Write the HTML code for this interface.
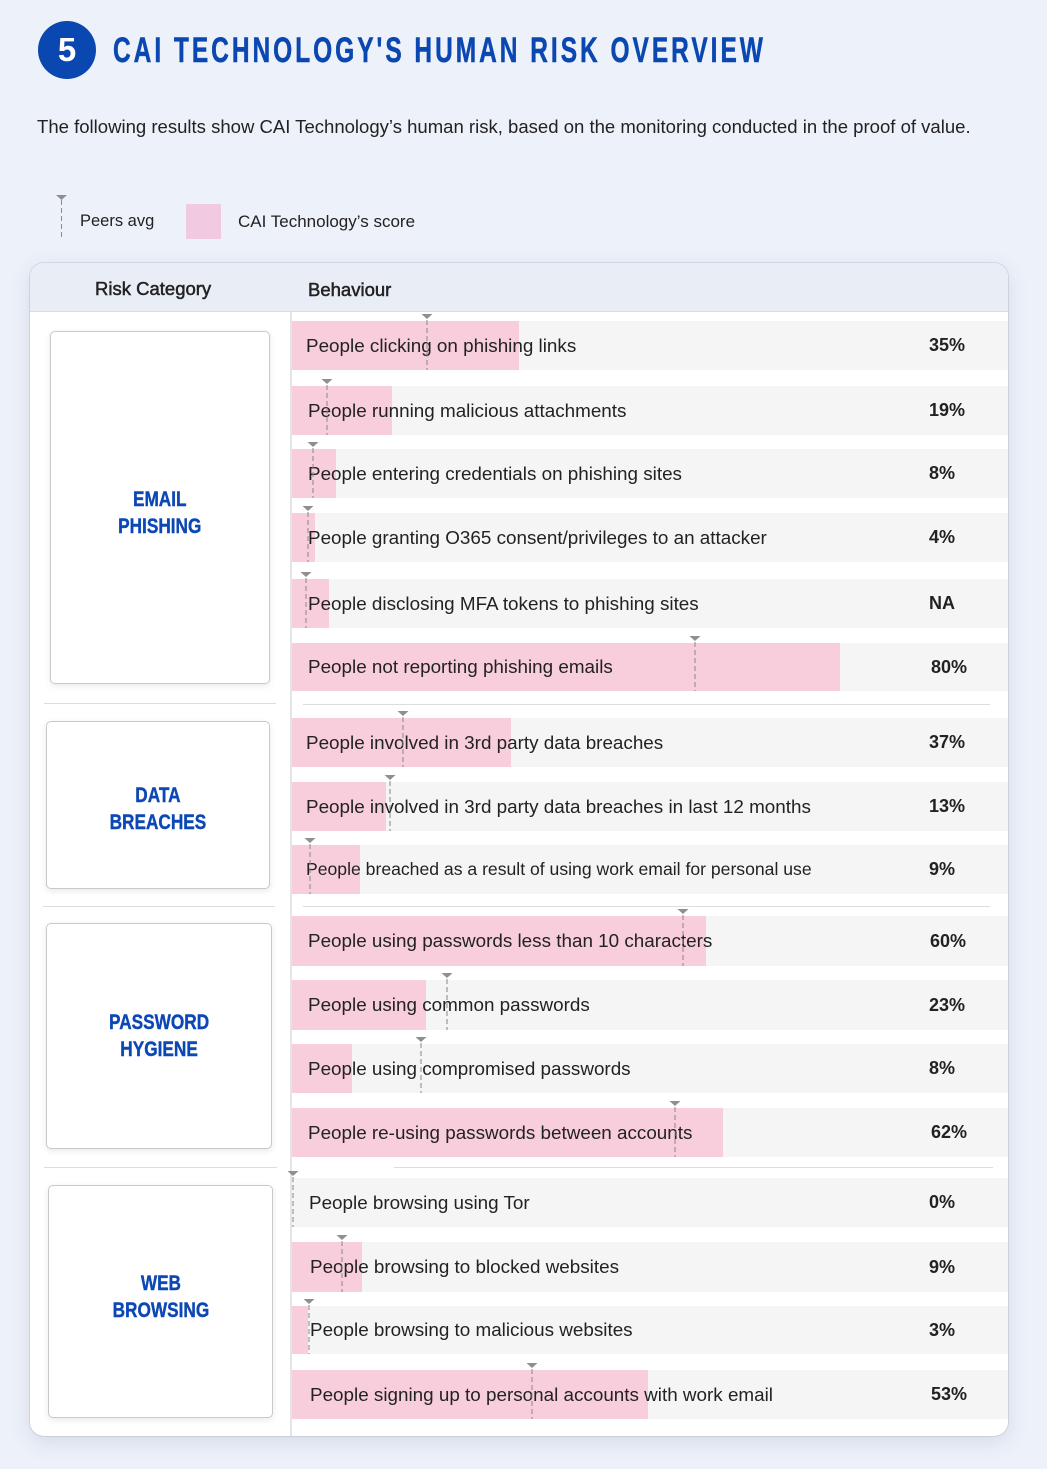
<!DOCTYPE html>
<html><head><meta charset="utf-8">
<style>
*{margin:0;padding:0;box-sizing:border-box}
body{width:1047px;height:1469px;background:#edf1f9;font-family:"Liberation Sans",sans-serif;color:#222;position:relative;overflow:hidden}
.abs{position:absolute}
.circle{left:38px;top:21px;width:58px;height:58px;border-radius:50%;background:#0a47b1;color:#fff;font-weight:bold;font-size:33px;line-height:58px;text-align:center}
.title{left:113px;top:33px;line-height:35px;font-size:35px;font-weight:bold;color:#0a47b1;letter-spacing:4.25px;white-space:nowrap;transform:scaleX(0.7);transform-origin:left center;-webkit-text-stroke:0.5px #0a47b1}
.sub{left:37px;top:117px;font-size:18.55px;line-height:20px;white-space:nowrap;color:#222}
.leg{font-size:17px;line-height:20px;white-space:nowrap}
.card{left:30px;top:263px;width:978px;height:1173px;background:#fff;border-radius:14px;box-shadow:0 6px 22px rgba(60,70,110,0.13),0 0 0 1px rgba(200,205,215,0.6);overflow:hidden}
.hdr{left:0;top:0;width:978px;height:49px;background:#e9edf6;border-bottom:1px solid #d8dce5}
.hl{font-size:18.5px;line-height:20px;top:16px;-webkit-text-stroke:0.5px #222;white-space:nowrap}
.colline{left:260px;top:49px;width:2px;height:1130px;background:#e3e5ea}
.box{background:#fff;border:1px solid #c9c9c9;border-radius:5px;box-shadow:0 2px 7px rgba(0,0,0,0.09);display:flex;align-items:center;justify-content:center;text-align:center}
.cat{display:inline-block;font-weight:bold;font-size:21px;line-height:27px;color:#0b47b5;transform:scaleX(0.82);-webkit-text-stroke:0.4px #0b47b5}
.sep{height:1px;background:#dcdde2}
.row{left:262px;width:716px;height:49px;background:#f5f5f5}
.bar{position:absolute;left:0;top:0;height:100%;background:#f8cedc}
.lbl{position:absolute;top:0;line-height:49px;font-size:18.85px;white-space:nowrap;color:#222}
.pct{position:absolute;left:637px;top:0;line-height:49px;font-size:18px;font-weight:bold;color:#222}
</style></head><body>
<div class="abs circle">5</div>
<div class="abs title">CAI TECHNOLOGY'S HUMAN RISK OVERVIEW</div>
<div class="abs sub">The following results show CAI Technology’s human risk, based on the monitoring conducted in the proof of value.</div>

<svg class="abs" style="left:50px;top:190px" width="24" height="52">
<polygon points="6,5 17,5 11.5,10" fill="#8f8f8f"/>
<line x1="11.5" y1="10" x2="11.5" y2="48" stroke="#888" stroke-width="1" stroke-dasharray="5,3"/>
</svg>
<div class="abs leg" style="left:80px;top:211px;font-size:16.5px">Peers avg</div>
<div class="abs" style="left:186px;top:204px;width:35px;height:35px;background:#f1c9e0"></div>
<div class="abs leg" style="left:238px;top:212px">CAI Technology’s score</div>

<div class="abs card">
  <div class="abs hdr"></div>
  <div class="abs hl" style="left:65px">Risk Category</div>
  <div class="abs hl" style="left:278px;top:17px">Behaviour</div>
  <div class="abs colline"></div>

  <div class="abs box" style="left:20px;top:68px;width:220px;height:353px"><span class="cat" style="position:relative;top:5px">EMAIL<br>PHISHING</span></div>
  <div class="abs sep" style="left:14px;top:440px;width:232px"></div>
  <div class="abs box" style="left:16px;top:458px;width:224px;height:168px"><span class="cat" style="position:relative;top:4px">DATA<br>BREACHES</span></div>
  <div class="abs sep" style="left:13px;top:643px;width:232px"></div>
  <div class="abs box" style="left:16px;top:660px;width:226px;height:226px"><span class="cat">PASSWORD<br>HYGIENE</span></div>
  <div class="abs sep" style="left:14px;top:904px;width:233px"></div>
  <div class="abs box" style="left:18px;top:922px;width:225px;height:233px"><span class="cat" style="position:relative;top:-5px">WEB<br>BROWSING</span></div>

  <div class="abs sep" style="left:273px;top:441px;width:687px"></div>
  <div class="abs sep" style="left:273px;top:643px;width:687px"></div>
  <div class="abs sep" style="left:364px;top:904px;width:599px"></div>

  <div class="abs row" style="top:58px"><div class="bar" style="width:227px"></div><div class="lbl" style="left:14px">People clicking on phishing links</div><div class="pct">35%</div></div>
  <div class="abs row" style="top:123px"><div class="bar" style="width:100px"></div><div class="lbl" style="left:16px">People running malicious attachments</div><div class="pct">19%</div></div>
  <div class="abs row" style="top:186px"><div class="bar" style="width:44px"></div><div class="lbl" style="left:16px">People entering credentials on phishing sites</div><div class="pct">8%</div></div>
  <div class="abs row" style="top:250px"><div class="bar" style="width:23px"></div><div class="lbl" style="left:16px">People granting O365 consent/privileges to an attacker</div><div class="pct">4%</div></div>
  <div class="abs row" style="top:316px"><div class="bar" style="width:37px"></div><div class="lbl" style="left:16px">People disclosing MFA tokens to phishing sites</div><div class="pct">NA</div></div>
  <div class="abs row" style="top:380px;height:48px"><div class="bar" style="width:548px"></div><div class="lbl" style="left:16px;line-height:48px">People not reporting phishing emails</div><div class="pct" style="left:639px;line-height:48px">80%</div></div>

  <div class="abs row" style="top:455px"><div class="bar" style="width:219px"></div><div class="lbl" style="left:14px">People involved in 3rd party data breaches</div><div class="pct">37%</div></div>
  <div class="abs row" style="top:519px"><div class="bar" style="width:94px"></div><div class="lbl" style="left:14px">People involved in 3rd party data breaches in last 12 months</div><div class="pct">13%</div></div>
  <div class="abs row" style="top:582px"><div class="bar" style="width:68px"></div><div class="lbl" style="left:14px;font-size:17.6px">People breached as a result of using work email for personal use</div><div class="pct">9%</div></div>

  <div class="abs row" style="top:653px;height:50px"><div class="bar" style="width:414px"></div><div class="lbl" style="left:16px;line-height:50px">People using passwords less than 10 characters</div><div class="pct" style="left:638px;line-height:50px">60%</div></div>
  <div class="abs row" style="top:717px;height:50px"><div class="bar" style="width:134px"></div><div class="lbl" style="left:16px;line-height:50px">People using common passwords</div><div class="pct" style="line-height:50px">23%</div></div>
  <div class="abs row" style="top:781px"><div class="bar" style="width:60px"></div><div class="lbl" style="left:16px">People using compromised passwords</div><div class="pct">8%</div></div>
  <div class="abs row" style="top:845px"><div class="bar" style="width:431px"></div><div class="lbl" style="left:16px">People re-using passwords between accounts</div><div class="pct" style="left:639px">62%</div></div>

  <div class="abs row" style="top:915px"><div class="lbl" style="left:17px">People browsing using Tor</div><div class="pct">0%</div></div>
  <div class="abs row" style="top:979px;height:50px"><div class="bar" style="width:70px"></div><div class="lbl" style="left:18px;line-height:50px">People browsing to blocked websites</div><div class="pct" style="line-height:50px">9%</div></div>
  <div class="abs row" style="top:1043px;height:48px"><div class="bar" style="width:16px"></div><div class="lbl" style="left:18px;line-height:48px">People browsing to malicious websites</div><div class="pct" style="line-height:48px">3%</div></div>
  <div class="abs row" style="top:1107px"><div class="bar" style="width:356px"></div><div class="lbl" style="left:18px">People signing up to personal accounts with work email</div><div class="pct" style="left:639px">53%</div></div>
</div>

<svg class="abs" style="left:0;top:0" width="1047" height="1469">
<defs>
<g id="m"><polygon points="-5.5,-6 5.5,-6 0,-1" fill="#8f8f8f"/></g>
</defs>
<g stroke="#888" stroke-width="1" stroke-dasharray="5,3" fill="none">
<line x1="427" y1="320" x2="427" y2="370"/>
<line x1="327" y1="385" x2="327" y2="435"/>
<line x1="313" y1="448" x2="313" y2="498"/>
<line x1="308" y1="512" x2="308" y2="562"/>
<line x1="306" y1="578" x2="306" y2="628"/>
<line x1="695" y1="642" x2="695" y2="691"/>
<line x1="403" y1="717" x2="403" y2="767"/>
<line x1="390" y1="781" x2="390" y2="831"/>
<line x1="310" y1="844" x2="310" y2="894"/>
<line x1="683" y1="915" x2="683" y2="966"/>
<line x1="447" y1="979" x2="447" y2="1030"/>
<line x1="421" y1="1043" x2="421" y2="1093"/>
<line x1="675" y1="1107" x2="675" y2="1157"/>
<line x1="293" y1="1177" x2="293" y2="1227"/>
<line x1="342" y1="1241" x2="342" y2="1292"/>
<line x1="309" y1="1305" x2="309" y2="1354"/>
<line x1="532" y1="1369" x2="532" y2="1419"/>
</g>
<use href="#m" x="427" y="320"/>
<use href="#m" x="327" y="385"/>
<use href="#m" x="313" y="448"/>
<use href="#m" x="308" y="512"/>
<use href="#m" x="306" y="578"/>
<use href="#m" x="695" y="642"/>
<use href="#m" x="403" y="717"/>
<use href="#m" x="390" y="781"/>
<use href="#m" x="310" y="844"/>
<use href="#m" x="683" y="915"/>
<use href="#m" x="447" y="979"/>
<use href="#m" x="421" y="1043"/>
<use href="#m" x="675" y="1107"/>
<use href="#m" x="293" y="1177"/>
<use href="#m" x="342" y="1241"/>
<use href="#m" x="309" y="1305"/>
<use href="#m" x="532" y="1369"/>
</svg>
</body></html>
